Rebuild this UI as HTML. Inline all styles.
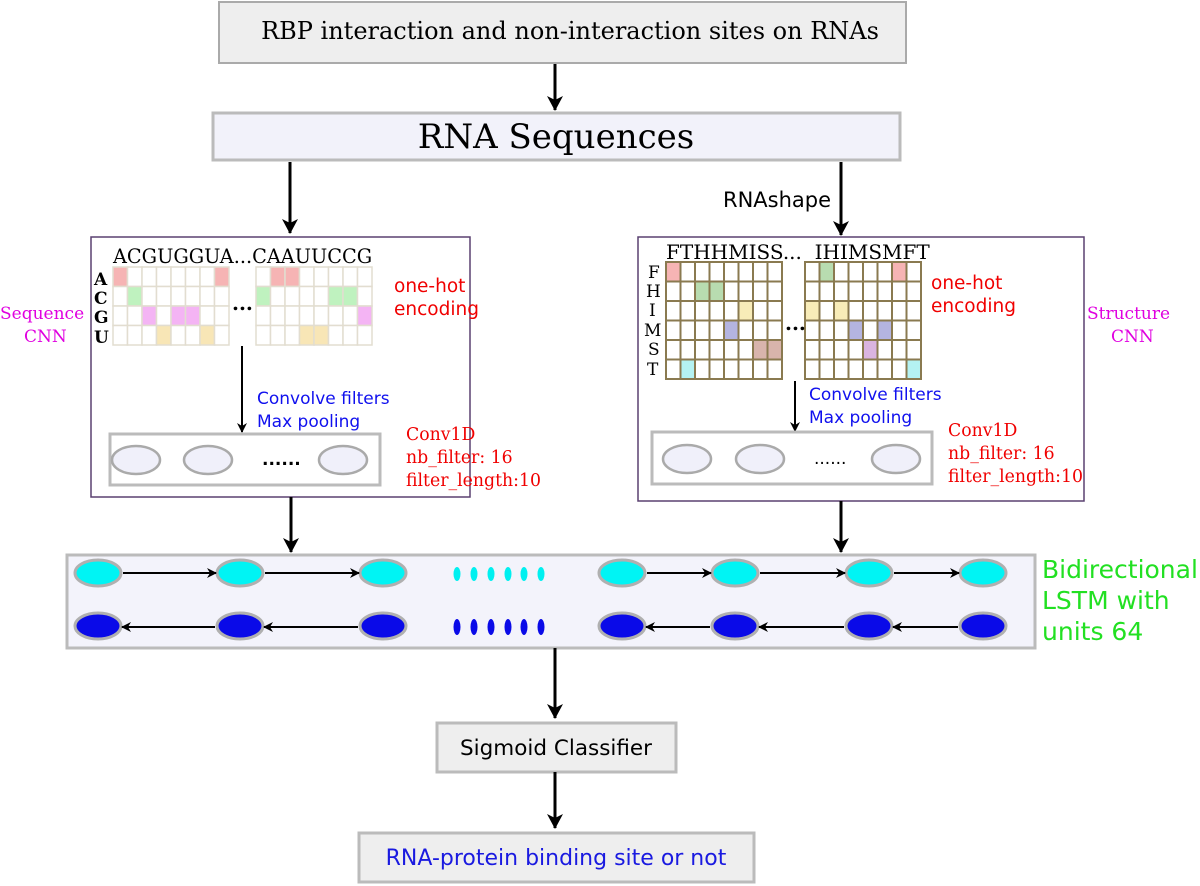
<!DOCTYPE html>
<html><head><meta charset="utf-8"><style>
html,body{margin:0;padding:0;background:#fff;}
svg{display:block;}
.serif{font-family:"DejaVu Serif","Liberation Serif",serif;}
.sans{font-family:"DejaVu Sans","Liberation Sans",sans-serif;}
</style></head><body>
<svg id="s" width="1200" height="886" viewBox="0 0 1200 886" xmlns="http://www.w3.org/2000/svg">
<defs>
<marker id="ah" markerWidth="10" markerHeight="10" refX="9" refY="5" orient="auto" markerUnits="userSpaceOnUse"><path d="M0,0 L10,5 L0,10 L3,5 z" fill="#000"/></marker>
<marker id="ab" markerWidth="16" markerHeight="16" refX="14" refY="8" orient="auto" markerUnits="userSpaceOnUse"><path d="M0,0 L15,8 L0,16 L4,8 z" fill="#000"/></marker>
</defs>
<rect x="219" y="2" width="687" height="61" fill="#eeeeee" stroke="#aaa" stroke-width="2"/>
<text x="570" y="39" class="serif" font-size="24" text-anchor="middle">RBP interaction and non-interaction sites on RNAs</text>
<line x1="555" y1="64" x2="555" y2="110" stroke="#000" stroke-width="3" marker-end="url(#ab)"/>
<rect x="213" y="113" width="687" height="47" fill="#f2f2fa" stroke="#bbb" stroke-width="3"/>
<text x="556" y="148" class="serif" font-size="34" text-anchor="middle">RNA Sequences</text>
<line x1="290" y1="162" x2="290" y2="233" stroke="#000" stroke-width="3" marker-end="url(#ab)"/>
<line x1="841" y1="162" x2="841" y2="235" stroke="#000" stroke-width="3" marker-end="url(#ab)"/>
<text x="723" y="207" class="sans" font-size="21">RNAshape</text>
<rect x="91" y="237" width="379" height="260" fill="#fff" stroke="#5a4070" stroke-width="1.5"/>
<rect x="638" y="237" width="446" height="264" fill="#fff" stroke="#5a4070" stroke-width="1.5"/>
<g id="grids"></g>
<text x="113" y="263" class="serif" font-size="19.3">ACGUGGUA...CAAUUCCG</text>
<g class="serif" font-size="17" font-weight="bold">
<text x="94" y="285">A</text><text x="94" y="304">C</text><text x="94" y="323">G</text><text x="94" y="343">U</text>
</g>
<text x="232" y="310" class="serif" font-size="20" font-weight="bold">...</text>
<text x="666" y="259" class="serif" font-size="20" xml:space="preserve">FTHHMISS...  IHIMSMFT</text>
<g class="serif" font-size="17">
<text x="648" y="278">F</text><text x="646" y="297">H</text><text x="649" y="316">I</text><text x="644" y="336">M</text><text x="648" y="355">S</text><text x="647" y="375">T</text>
</g>
<text x="785" y="330" class="serif" font-size="20" font-weight="bold">...</text>
<g class="serif" font-size="17" fill="#e000e0">
<text x="0" y="319">Sequence</text><text x="24" y="342">CNN</text>
<text x="1087" y="319">Structure</text><text x="1111" y="342">CNN</text>
</g>
<g class="sans" font-size="18.5" fill="#f00000">
<text x="394" y="292">one-hot</text><text x="394" y="315">encoding</text>
<text x="931" y="289">one-hot</text><text x="931" y="312">encoding</text>
</g>
<g class="sans" font-size="17" fill="#1010ee">
<text x="257" y="404">Convolve filters</text><text x="257" y="427">Max pooling</text>
<text x="809" y="400">Convolve filters</text><text x="809" y="423">Max pooling</text>
</g>
<g class="serif" font-size="17.3" fill="#f00000">
<text x="406" y="440">Conv1D</text><text x="406" y="463">nb_filter: 16</text><text x="406" y="486">filter_length:10</text>
<text x="948" y="436">Conv1D</text><text x="948" y="459">nb_filter: 16</text><text x="948" y="482">filter_length:10</text>
</g>
<line x1="242" y1="346" x2="242" y2="432" stroke="#000" stroke-width="2" marker-end="url(#ah)"/>
<line x1="795" y1="381" x2="795" y2="431" stroke="#000" stroke-width="2" marker-end="url(#ah)"/>
<rect x="110" y="434" width="270" height="51" fill="#fff" stroke="#bbb" stroke-width="3"/>
<rect x="652" y="432" width="280" height="52" fill="#fff" stroke="#bbb" stroke-width="3"/>
<g fill="#f0f0fa" stroke="#aaa" stroke-width="2.5">
<ellipse cx="136" cy="460" rx="24" ry="14"/><ellipse cx="208" cy="460" rx="24" ry="14"/><ellipse cx="343" cy="460" rx="24" ry="14"/>
<ellipse cx="687" cy="459" rx="24" ry="14"/><ellipse cx="760" cy="459" rx="24" ry="14"/><ellipse cx="896" cy="459" rx="24" ry="14"/>
</g>
<text x="262" y="465" class="sans" font-size="17" font-weight="bold">......</text>
<text x="814" y="464" class="sans" font-size="17">......</text>
<line x1="291" y1="497" x2="291" y2="552" stroke="#000" stroke-width="3" marker-end="url(#ab)"/>
<line x1="841" y1="501" x2="841" y2="552" stroke="#000" stroke-width="3" marker-end="url(#ab)"/>
<rect x="67" y="555" width="968" height="93" fill="#f3f3fb" stroke="#bbb" stroke-width="3"/>
<g id="lstm"></g>
<g class="sans" font-size="25" fill="#22e022">
<text x="1042" y="578">Bidirectional</text><text x="1042" y="609">LSTM with</text><text x="1042" y="640">units 64</text>
</g>
<line x1="555" y1="648" x2="555" y2="718" stroke="#000" stroke-width="3" marker-end="url(#ab)"/>
<rect x="437" y="723" width="239" height="49" fill="#eee" stroke="#bbb" stroke-width="3"/>
<text x="556" y="755" class="sans" font-size="21.5" text-anchor="middle">Sigmoid Classifier</text>
<line x1="555" y1="772" x2="555" y2="828" stroke="#000" stroke-width="3" marker-end="url(#ab)"/>
<rect x="359" y="833" width="395" height="49" fill="#eee" stroke="#bbb" stroke-width="3"/>
<text x="556" y="865" class="sans" font-size="22" fill="#1a1ae0" text-anchor="middle">RNA-protein binding site or not</text>
</svg>
<script>
var NS="http://www.w3.org/2000/svg";
function el(p,t,a){var e=document.createElementNS(NS,t);for(var k in a)e.setAttribute(k,a[k]);p.appendChild(e);return e;}
var g=document.getElementById('grids');
function grid(x0,y0,rows,cw,rh,line,lw,cells){
 for(var r=0;r<rows;r++)for(var c=0;c<8;c++){
  var f=cells[r+','+c]||'#fff';
  el(g,'rect',{x:x0+c*cw,y:y0+r*rh,width:cw,height:rh,fill:f,stroke:line,'stroke-width':lw});
 }
}
var P='#f6b4b4',G='#bff2bf',M='#f4b4f4',Y='#f8e6b6';
grid(113,267,4,14.5,19.5,'#e2ddd0',1.5,{'0,0':P,'0,7':P,'1,1':G,'2,2':M,'2,4':M,'2,5':M,'3,3':Y,'3,6':Y});
grid(256,267,4,14.5,19.5,'#e2ddd0',1.5,{'0,1':P,'0,2':P,'1,0':G,'1,5':G,'1,6':G,'2,7':M,'3,3':Y,'3,4':Y});
var GG='#b8dcb0',BL='#b4b4e0',BR='#d8b4ac',PU='#dab4e0',C='#b4f2f2',YY='#f8ecb8';
grid(666,262,6,14.5,19.5,'#8a7a50',2,{'0,0':P,'1,2':GG,'1,3':GG,'2,5':YY,'3,4':BL,'4,6':BR,'4,7':BR,'5,1':C});
grid(805,262,6,14.5,19.5,'#8a7a50',2,{'0,1':GG,'0,6':P,'2,0':YY,'2,2':YY,'3,3':BL,'3,5':BL,'4,4':PU,'5,7':C});
var L=document.getElementById('lstm');
var xs=[98,240,383,622,735,869,983];
xs.forEach(function(x){
 el(L,'ellipse',{cx:x,cy:573,rx:23,ry:13,fill:'#00f4f4',stroke:'#b0b0b0','stroke-width':3});
 el(L,'ellipse',{cx:x,cy:626,rx:23,ry:13,fill:'#0a0ae8',stroke:'#b0b0b0','stroke-width':3});
});
[[0,1],[1,2],[3,4],[4,5],[5,6]].forEach(function(p){
 el(L,'line',{x1:xs[p[0]]+25,y1:573,x2:xs[p[1]]-24,y2:573,stroke:'#000','stroke-width':2,'marker-end':'url(#ah)'});
 el(L,'line',{x1:xs[p[1]]-25,y1:627,x2:xs[p[0]]+24,y2:627,stroke:'#000','stroke-width':2,'marker-end':'url(#ah)'});
});
[457,474,491,508,524,541].forEach(function(x){
 el(L,'ellipse',{cx:x,cy:574,rx:3.5,ry:7,fill:'#00f0f0'});
 el(L,'ellipse',{cx:x,cy:627,rx:3.5,ry:8,fill:'#0a0ae8'});
});
</script>
</body></html>
